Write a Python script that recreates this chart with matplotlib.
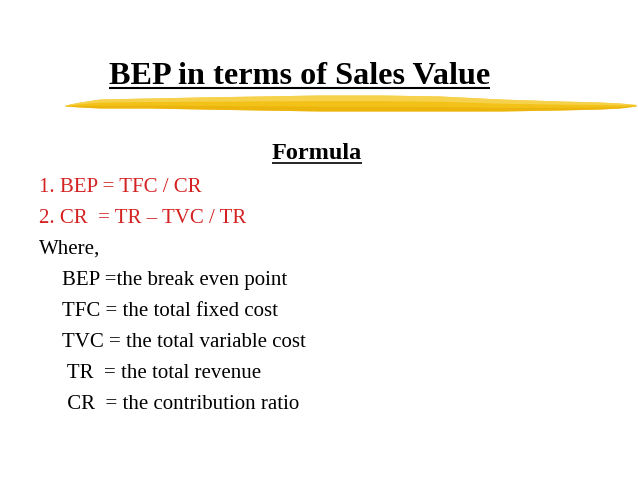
import numpy as np
import matplotlib
matplotlib.use("Agg")
import matplotlib.pyplot as plt

plt.rcParams['font.family'] = ['Liberation Serif', 'DejaVu Serif']

title = "BEP in terms of Sales Value"
heading = "Formula"
formulas = ["1. BEP = TFC / CR", "2. CR  = TR \u2013 TVC / TR"]
where_label = "Where,"
definitions = [
    "BEP =the break even point",
    "TFC = the total fixed cost",
    "TVC = the total variable cost",
    " TR  = the total revenue",
    " CR  = the contribution ratio",
]

# brush stroke outline (pixel coords)
brush_x = [65, 80, 100, 150, 200, 260, 320, 380, 440, 500, 560, 600, 620, 636]
brush_top = [105, 102, 99, 98, 97, 96, 95, 95, 96, 99, 101, 102, 103, 104.5]
brush_bot = [106, 107, 108, 108, 109, 110, 111, 111, 111, 111, 110, 109, 108, 106]

W, H = 638, 479
fig = plt.figure(figsize=(W / 100, H / 100), dpi=100)
ax = fig.add_axes([0, 0, 1, 1])
ax.set_xlim(0, W)
ax.set_ylim(H, 0)
ax.axis('off')

red = '#d42222'


def underline(t, y, lw):
    fig.canvas.draw()
    bb = t.get_window_extent()
    inv = ax.transData.inverted()
    (x0, _), (x1, _) = inv.transform([(bb.x0, bb.y0), (bb.x1, bb.y1)])
    ax.plot([x0, x1], [y, y], color='black', lw=lw, solid_capstyle='butt')


# brush
ax.fill_between(brush_x, brush_top, brush_bot, color='#f3c218', lw=0)
top_third = [a + (b - a) * 0.35 for a, b in zip(brush_top, brush_bot)]
ax.fill_between(brush_x, brush_top, top_third, color='#f8d658', lw=0, alpha=0.8)
low_third = [a + (b - a) * 0.7 for a, b in zip(brush_top, brush_bot)]
ax.fill_between(brush_x, low_third, brush_bot, color='#eab20c', lw=0, alpha=0.8)

t = ax.text(109, 84, title, fontsize=23.2, fontweight='bold', ha='left',
            va='baseline', color='black')
underline(t, 88, 1.5)

t = ax.text(272, 159, heading, fontsize=17.5, fontweight='bold', ha='left',
            va='baseline', color='black')
underline(t, 162.5, 1.2)

y0 = 192
step = 31
for i, s in enumerate(formulas):
    ax.text(39, y0 + i * step, s, fontsize=15, color=red, va='baseline')
ax.text(39, y0 + 2 * step, where_label, fontsize=15, color='black', va='baseline')
for i, s in enumerate(definitions):
    ax.text(62, y0 + (3 + i) * step, s, fontsize=15, color='black', va='baseline')

fig.savefig('out.png', dpi=100, facecolor='white')
